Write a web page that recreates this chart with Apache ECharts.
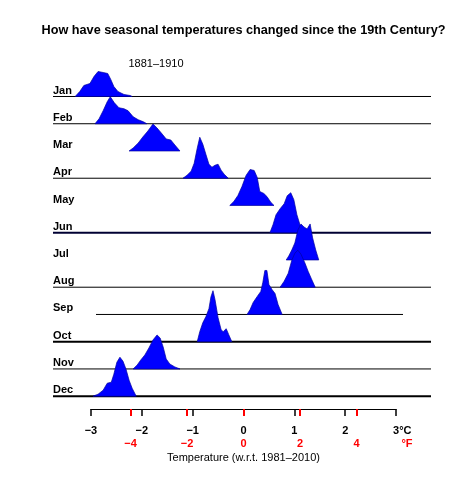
<!DOCTYPE html>
<html><head><meta charset="utf-8">
<script src="https://cdn.jsdelivr.net/npm/echarts@6/dist/echarts.min.js"></script>
<style>html,body{margin:0;padding:0;background:#fff}#c{width:460px;height:480px}</style>
</head><body><div id="c"></div><script>
// ---------- data ----------
const months = ['Jan','Feb','Mar','Apr','May','Jun','Jul','Aug','Sep','Oct','Nov','Dec'];
// [temperature anomaly °C, relative density]
const jan = [[-3.31,0],[-3.22,5],[-3.14,11],[-3.02,13],[-2.94,20],[-2.86,25],[-2.76,24],[-2.67,23],[-2.61,17],[-2.55,10],[-2.47,5],[-2.35,2],[-2.23,1],[-2.19,0]];
const feb = [[-2.92,0],[-2.84,5],[-2.76,13],[-2.68,22],[-2.62,27],[-2.54,21],[-2.45,16],[-2.35,15],[-2.27,13],[-2.17,7],[-2.07,4],[-1.97,2],[-1.90,0]];
const mar = [[-2.25,0],[-2.17,3],[-2.07,8],[-1.98,14],[-1.88,20],[-1.78,27],[-1.70,23],[-1.60,17],[-1.52,12],[-1.43,11],[-1.35,6],[-1.25,0]];
const apr = [[-1.19,0],[-1.11,3],[-1.03,7],[-0.97,15],[-0.91,30],[-0.86,41],[-0.80,34],[-0.74,24],[-0.68,14],[-0.62,11],[-0.56,13],[-0.50,14],[-0.44,8],[-0.38,4],[-0.30,0]];
const may = [[-0.27,0],[-0.19,4],[-0.11,10],[-0.03,19],[0.05,30],[0.13,36],[0.21,35],[0.27,28],[0.32,14],[0.40,12],[0.46,9],[0.54,3],[0.60,0]];
const jun = [[0.52,0],[0.58,8],[0.64,18],[0.72,24],[0.80,29],[0.86,37],[0.93,40],[0.99,33],[1.05,18],[1.11,8],[1.19,0]];
const jul = [[0.84,0],[0.89,4],[0.95,10],[1.01,17],[1.07,30],[1.13,36],[1.19,33],[1.25,31],[1.31,36],[1.36,22],[1.42,10],[1.48,0]];
const aug = [[0.72,0],[0.80,6],[0.88,14],[0.95,27],[1.01,34],[1.07,37],[1.13,33],[1.21,24],[1.27,16],[1.33,9],[1.41,0]];
const sep = [[0.07,0],[0.13,5],[0.19,12],[0.27,18],[0.34,23],[0.38,32],[0.42,44],[0.46,44],[0.50,30],[0.56,25],[0.62,21],[0.68,10],[0.76,0]];
const oct = [[-0.91,0],[-0.86,10],[-0.80,19],[-0.74,25],[-0.68,33],[-0.64,45],[-0.60,51],[-0.56,42],[-0.50,24],[-0.44,12],[-0.40,10],[-0.34,13],[-0.29,7],[-0.23,0]];
const nov = [[-2.17,0],[-2.09,4],[-2.02,9],[-1.94,14],[-1.86,21],[-1.78,29],[-1.70,34],[-1.64,31],[-1.58,22],[-1.52,10],[-1.45,5],[-1.35,2],[-1.25,0]];
const dec = [[-2.96,0],[-2.86,2],[-2.76,6],[-2.68,13],[-2.60,14],[-2.55,22],[-2.49,34],[-2.43,39],[-2.37,35],[-2.31,27],[-2.25,16],[-2.19,8],[-2.11,0]];
const densities = [jan,feb,mar,apr,may,jun,jul,aug,sep,oct,nov,dec];
const cTicks = [-3,-2,-1,0,1,2,3];
const fTicks = [-4,-2,0,2,4];
const titleText = 'How have seasonal temperatures changed since the 19th Century?';
const periodText = '1881\u20131910';
const axisTitle = 'Temperature (w.r.t. 1981\u20132010)';
const cUnit = '°C', fUnit = '°F';

// ---------- layout / style ----------
const FONT = "'Liberation Sans', Arial, Helvetica, sans-serif";
const PX_PER_DEG = 50.85, ZERO_X = 243.5;
const WIDE_L = 53, WIDE_R = 431;
const GRID_TOP = 42, GRID_H = 367;
const Y_MIN = -0.47, Y_MAX = 13;
const ROW_PX = GRID_H / (Y_MAX - Y_MIN);
const DENS_SCALE = 1 / ROW_PX;
const toDeg = px => (px - ZERO_X) / PX_PER_DEG;
const toPx = d => ZERO_X + d * PX_PER_DEG;
// baseline line style per month (null = no line)
const baseLines = [
  {w:1,c:'#000'},{w:1,c:'#000'},null,{w:1,c:'#000'},null,{w:2,c:'#000033'},
  null,{w:1,c:'#000'},{w:1,c:'#000',from:toDeg(96),to:toDeg(403)},{w:2,c:'#000'},{w:1,c:'#000'},{w:2,c:'#000'}
];
const minus = v => (v < 0 ? '\u2212' + Math.abs(v) : String(v));

const chart = echarts.init(document.getElementById('c'), null, {renderer:'canvas'});
chart.setOption({
  animation: false,
  backgroundColor: '#fff',
  grid: [
    {left: WIDE_L, width: WIDE_R - WIDE_L, top: GRID_TOP, height: GRID_H},
    {left: toPx(-3), width: toPx(3) - toPx(-3), top: GRID_TOP, height: GRID_H}
  ],
  xAxis: [
    {type:'value', gridIndex:0, min: toDeg(WIDE_L), max: toDeg(WIDE_R), z: 5,
     axisLine:{show:false, onZero:false}, splitLine:{show:false},
     axisTick:{show:true, customValues: fTicks.map(f => f/1.8), length:7, lineStyle:{color:'#ff0000', width:2}},
     axisLabel:{show:true, customValues: fTicks.map(f => f/1.8), margin:29.5, color:'#ff0000',
       fontFamily:FONT, fontSize:11, fontWeight:'bold', formatter: v => minus(Math.round(v*1.8))}},
    {type:'value', gridIndex:1, min:-3, max:3, interval:1, z: 3,
     axisLine:{show:true, onZero:false, lineStyle:{color:'#000', width:1}}, splitLine:{show:false},
     axisTick:{show:true, length:7, lineStyle:{color:'#000', width:1.5}},
     axisLabel:{show:true, margin:16, color:'#000', fontFamily:FONT, fontSize:11, fontWeight:'bold',
       formatter: v => v === cTicks[cTicks.length-1] ? '{s|}' + v + '{u|' + cUnit + '}' : minus(v),
       rich:{s:{width:12.5}, u:{fontFamily:FONT, fontSize:11, fontWeight:'bold', color:'#000'}}}}
  ],
  yAxis: [
    {type:'value', gridIndex:0, min:Y_MIN, max:Y_MAX, show:false},
    {type:'value', gridIndex:1, min:Y_MIN, max:Y_MAX, show:false}
  ],
  series: [{
    type:'custom', xAxisIndex:0, yAxisIndex:0, clip:false,
    data: months.map((m,i) => [0, 0, i]),
    encode:{x:0, y:1},
    renderItem: (params, api) => {
      const i = api.value(2);
      const base = 11 - i;
      const cs = params.coordSys;
      const children = [];
      const bl = baseLines[i];
      const yb = api.coord([0, base])[1];
      if (bl) {
        const x1 = bl.from !== undefined ? api.coord([bl.from, base])[0] : cs.x;
        const x2 = bl.to !== undefined ? api.coord([bl.to, base])[0] : cs.x + cs.width;
        children.push({type:'line', shape:{x1, y1:yb, x2, y2:yb}, style:{stroke:bl.c, lineWidth:bl.w}});
      }
      const pts = densities[i].map(([t,h]) => api.coord([t, base + h*DENS_SCALE]));
      children.push({type:'polygon', shape:{points:pts}, style:{fill:'#0000ff', stroke:'#0000a0', lineWidth:0.7}});
      children.push({type:'text', x: cs.x, y: yb - 6, style:{text: months[i], fill:'#000', font:'bold 11px ' + FONT, align:'left', verticalAlign:'middle'}});
      return {type:'group', children};
    }
  }],
  graphic: [
    {type:'text', x:243.5, y:30, style:{text:titleText, fill:'#000', font:'bold 12.7px ' + FONT, align:'center', verticalAlign:'middle'}},
    {type:'text', x:156, y:64, style:{text:periodText, fill:'#000', font:'11px ' + FONT, align:'center', verticalAlign:'middle'}},
    {type:'text', x:243.5, y:458, style:{text:axisTitle, fill:'#000', font:'11px ' + FONT, align:'center', verticalAlign:'middle'}},
    {type:'text', x:407, y:444, style:{text:fUnit, fill:'#ff0000', font:'bold 11px ' + FONT, align:'center', verticalAlign:'middle'}}
  ]
});
</script></body></html>
